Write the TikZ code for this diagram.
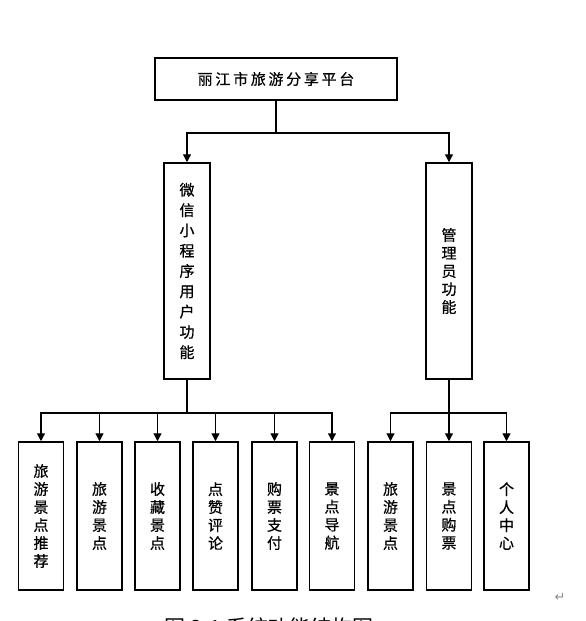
\documentclass[tikz,border=0pt]{standalone}
\usepackage{fontspec}
\newfontfamily\cjk[FakeBold=0.6]{Noto Sans CJK SC}
\newfontfamily\cjkwide[LetterSpace=18,FakeBold=0.6]{Noto Sans CJK SC}
\newfontfamily\capfont{Noto Sans CJK SC}
\newfontfamily\symfont{DejaVu Sans}
\usetikzlibrary{arrows.meta}
\tikzset{
  box/.style={draw, line width=1.5pt, inner sep=0pt, align=center},
  vbox/.style={box, minimum width=45pt, minimum height=148pt, font=\fontsize{15}{18}\cjk},
  midbox/.style={box, minimum width=46pt, minimum height=216pt},
  conn/.style={line width=1.3pt},
  arr/.style={conn, -{Triangle[width=8pt,length=8pt]}}
}
\begin{document}
\begin{tikzpicture}[x=1pt,y=-1pt]
\useasboundingbox (0,0) rectangle (586,621);
% top
\node[box, minimum width=242pt, minimum height=42pt, font=\fontsize{15}{18}\cjkwide] (top) at (276,79) {丽江市旅游分享平台};
% middle
\node[midbox, font=\fontsize{15}{20.3}\cjk] (ml) at (187,271) {微\\信\\小\\程\\序\\用\\户\\功\\能};
\node[midbox, font=\fontsize{15}{18}\cjk] (mr) at (449,271) {管\\理\\员\\功\\能};
% bottom
\node[vbox] (b1) at (41,516) {旅\\游\\景\\点\\推\\荐};
\node[vbox] (b2) at (99.5,516) {旅\\游\\景\\点};
\node[vbox] (b3) at (157.5,516) {收\\藏\\景\\点};
\node[vbox] (b4) at (215.5,516) {点\\赞\\评\\论};
\node[vbox] (b5) at (274.5,516) {购\\票\\支\\付};
\node[vbox] (b6) at (332,516) {景\\点\\导\\航};
\node[vbox] (b7) at (390.5,516) {旅\\游\\景\\点};
\node[vbox] (b8) at (449,516) {景\\点\\购\\票};
\node[vbox] (b9) at (506.5,516) {个\\人\\中\\心};
% junctions
\coordinate (j1) at (276,133);
\coordinate (j2) at (187,413);
\coordinate (j3) at (449,413);
\draw[conn] (top.south) -- (j1);
\draw[arr] (j1) -| (ml.north);
\draw[arr] (j1) -| (mr.north);
\draw[conn] (ml.south) -- (j2);
\foreach \b in {b1,b2,b3,b4,b5,b6} \draw[arr] (j2) -| (\b.north);
\draw[conn] (mr.south) -- (j3);
\foreach \b in {b7,b8,b9} \draw[arr] (j3) -| (\b.north);
% caption (cut by page edge, as in the reference)
\node[anchor=north, inner sep=0pt, font=\fontsize{21}{24}\capfont] (cap) at (269,617.5) {图 3-1 系统功能结构图};
\node[inner sep=0pt, text=black!45, font=\fontsize{13}{14}\symfont] (ret) at (560,597) {↵};
\end{tikzpicture}
\end{document}
